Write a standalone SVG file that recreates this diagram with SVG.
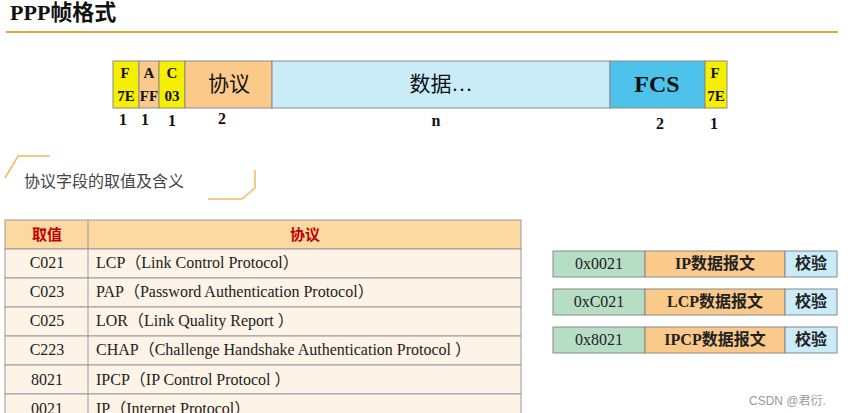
<svg xmlns="http://www.w3.org/2000/svg" width="850" height="413" viewBox="0 0 850 413">
<style>
.s{font-family:"Liberation Serif","Noto Sans CJK SC",serif;fill:#111}
.b{font-weight:bold}
.c{stroke:#8a8a8a;stroke-width:1}
.t{font-family:"Liberation Serif","Noto Sans CJK SC",serif;font-size:16px;fill:#222}
.r{fill:#fdf3e6;stroke:#999}
</style>
<rect width="850" height="413" fill="#fff"/>
<g id="title">
<text x="10" y="20" class="s b" font-size="22">PPP帧格式</text>
<line x1="6" y1="32" x2="838" y2="32" stroke="#e8a33a" stroke-width="2"/>
</g>
<g id="frame" class="s b" text-anchor="middle">
<rect x="113" y="61" width="26" height="47" fill="#f5f000" class="c"/>
<rect x="139" y="61" width="20" height="47" fill="#fbc98a" class="c"/>
<rect x="159" y="61" width="26" height="47" fill="#f5f000" class="c"/>
<rect x="185" y="61" width="87" height="47" fill="#fbc98a" class="c"/>
<rect x="272" y="61" width="338" height="47" fill="#c9ecf8" class="c"/>
<rect x="610" y="61" width="95" height="47" fill="#4dc3ec" class="c"/>
<rect x="705" y="61" width="22" height="47" fill="#f5f000" class="c"/>
<text x="125" y="78" font-size="15">F</text><text x="126" y="101" font-size="15">7E</text>
<text x="149" y="78" font-size="15">A</text><text x="149" y="101" font-size="15">FF</text>
<text x="172" y="78" font-size="15">C</text><text x="172" y="101" font-size="15">03</text>
<text x="229" y="91" font-size="21" font-weight="normal">协议</text>
<text x="441" y="91" font-size="21" font-weight="normal">数据…</text>
<text x="657" y="92" font-size="24">FCS</text>
<text x="715" y="78" font-size="15">F</text><text x="716" y="101" font-size="15">7E</text>
<g font-size="16">
<text x="123" y="125">1</text><text x="145" y="125">1</text><text x="172" y="126">1</text><text x="222" y="124">2</text>
<text x="436" y="126">n</text><text x="660" y="129">2</text><text x="714" y="129">1</text>
</g>
</g>
<g id="subtitle">
<polyline points="5,178 18,156 50,156" fill="none" stroke="#f3b860" stroke-width="1.5"/>
<polyline points="255,170 255,188 242,199 208,199" fill="none" stroke="#f3b860" stroke-width="1.5"/>
<text x="24" y="187" class="s" font-size="16" style="fill:#444">协议字段的取值及含义</text>
</g>
<g id="table">
<rect x="5" y="220" width="516" height="29" fill="#fcd9a0" stroke="#999"/>
<rect x="5" y="249" width="516" height="29" class="r"/>
<rect x="5" y="278" width="516" height="29" class="r"/>
<rect x="5" y="307" width="516" height="29" class="r"/>
<rect x="5" y="336" width="516" height="29" class="r"/>
<rect x="5" y="365" width="516" height="29" class="r"/>
<rect x="5" y="394" width="516" height="29" class="r"/>
<line x1="88" y1="220" x2="88" y2="413" stroke="#999"/>
<text x="47" y="240" text-anchor="middle" class="s b" font-size="15" style="fill:#c00000">取值</text>
<text x="305" y="240" text-anchor="middle" class="s b" font-size="15" style="fill:#c00000">协议</text>
<g class="t">
<text x="47" y="268" text-anchor="middle">C021</text><text x="96" y="268">LCP（Link Control Protocol）</text>
<text x="47" y="297" text-anchor="middle">C023</text><text x="96" y="297">PAP（Password Authentication Protocol）</text>
<text x="47" y="326" text-anchor="middle">C025</text><text x="96" y="326">LOR（Link Quality Report ）</text>
<text x="47" y="355" text-anchor="middle">C223</text><text x="96" y="355">CHAP（Challenge Handshake Authentication Protocol ）</text>
<text x="47" y="385" text-anchor="middle">8021</text><text x="96" y="385">IPCP（IP  Control Protocol ）</text>
<text x="47" y="414" text-anchor="middle">0021</text><text x="96" y="414">IP（Internet Protocol）</text>
</g>
</g>
<g id="packets" class="t" text-anchor="middle">
<g id="p1">
<rect x="553" y="251" width="92" height="26" fill="#b5dec5" stroke="#888"/>
<rect x="645" y="251" width="140" height="26" fill="#fbc98a" stroke="#888"/>
<rect x="785" y="251" width="52" height="26" fill="#c9ecf8" stroke="#888"/>
<text x="599" y="269">0x0021</text><text x="715" y="269" font-weight="bold">IP数据报文</text><text x="811" y="269" font-weight="bold">校验</text>
</g>
<g id="p2">
<rect x="553" y="289" width="92" height="26" fill="#b5dec5" stroke="#888"/>
<rect x="645" y="289" width="140" height="26" fill="#fbc98a" stroke="#888"/>
<rect x="785" y="289" width="52" height="26" fill="#c9ecf8" stroke="#888"/>
<text x="599" y="307">0xC021</text><text x="715" y="307" font-weight="bold">LCP数据报文</text><text x="811" y="307" font-weight="bold">校验</text>
</g>
<g id="p3">
<rect x="553" y="327" width="92" height="26" fill="#b5dec5" stroke="#888"/>
<rect x="645" y="327" width="140" height="26" fill="#fbc98a" stroke="#888"/>
<rect x="785" y="327" width="52" height="26" fill="#c9ecf8" stroke="#888"/>
<text x="599" y="345">0x8021</text><text x="715" y="345" font-weight="bold">IPCP数据报文</text><text x="811" y="345" font-weight="bold">校验</text>
</g>
</g>
<text x="749" y="405" font-family="'Liberation Sans','Noto Sans CJK SC',sans-serif" font-size="12" fill="#999">CSDN @君衍.</text>
</svg>
